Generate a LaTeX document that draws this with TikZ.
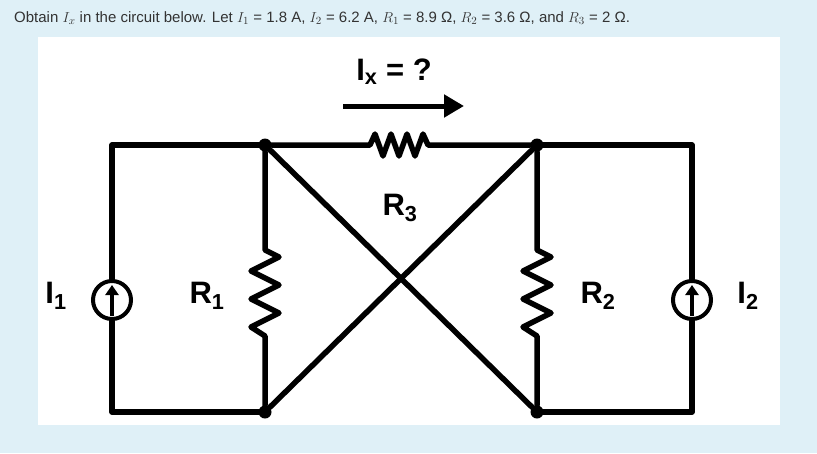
\documentclass[tikz,border=0pt]{standalone}
\usepackage{fontspec}
\setmainfont{Liberation Sans}
\usetikzlibrary{arrows.meta}
\definecolor{bg}{HTML}{DFF0F7}
\definecolor{txt}{HTML}{333333}
\begin{document}
\begin{tikzpicture}[x=1pt,y=-1pt,
  wire/.style={line width=5.5pt,line join=round,line cap=round},
  dot/.style={circle,fill=black,inner sep=0pt,minimum size=13pt},
  src/.style={circle,draw,line width=4pt,minimum size=38pt,inner sep=0pt},
  lbl/.style={font=\fontsize{31}{31}\selectfont\bfseries,inner sep=0pt}]
\fill[bg] (0,0) rectangle (817,453);
\fill[white] (38,37) rectangle (780,425);
\node[anchor=west,text=txt,font=\fontsize{15}{15}\selectfont,inner sep=0pt] (hdr) at (14,18)
 {Obtain $I_x$ in the circuit below. Let $I_1$ = 1.8 A, $I_2$ = 6.2 A, $R_1$ = 8.9 Ω, $R_2$ = 3.6 Ω, and $R_3$ = 2 Ω.};
\coordinate (tl) at (112,145); \coordinate (bl) at (112,412);
\node[dot] (a) at (265,145) {}; \node[dot] (b) at (265,412) {};
\node[dot] (c) at (537,145) {}; \node[dot] (d) at (537,412) {};
\coordinate (tr) at (692,145); \coordinate (br) at (692,412);
\node[src] (s1) at (112,300) {};
\node[src] (s2) at (692,300) {};
\draw[line width=4.5pt,-{Triangle[length=10pt,width=13pt]}] (112,316) -- (112,285);
\draw[line width=4.5pt,-{Triangle[length=10pt,width=13pt]}] (692,316) -- (692,285);
\draw[wire] (s1.north) -- (tl) -- (a);
\draw[wire] (s1.south) -- (bl) -- (b);
\draw[wire] (s2.north) -- (tr) -- (c);
\draw[wire] (s2.south) -- (br) -- (d);
\draw[wire] (a) -- (d); \draw[wire] (c) -- (b);
\draw[wire] (a) -- (370,145) -- (375,134) -- (383,156) -- (391,134) -- (399,156) -- (407,134) -- (415,156) -- (423,134) -- (428,145) -- (c);
\draw[wire] (a) -- (265,250) -- (279,257) -- (251,271) -- (279,285) -- (251,299) -- (279,313) -- (251,327) -- (265,336) -- (b);
\draw[wire] (c) -- (537,250) -- (551,257) -- (523,271) -- (551,285) -- (523,299) -- (551,313) -- (523,327) -- (537,336) -- (d);
\draw[line width=5pt,-{Triangle[length=20pt,width=22pt]}] (343,106) -- (464,106);
\node[lbl] (ix) at (394,72) {I\textsubscript{x} = ?};
\node[lbl] (r3) at (400,208) {R\textsubscript{3}};
\node[lbl] (r1) at (207,296) {R\textsubscript{1}};
\node[lbl] (r2) at (598,296) {R\textsubscript{2}};
\node[lbl] (i1) at (56,296) {I\textsubscript{1}};
\node[lbl] (i2) at (748,296) {I\textsubscript{2}};
\end{tikzpicture}
\end{document}
